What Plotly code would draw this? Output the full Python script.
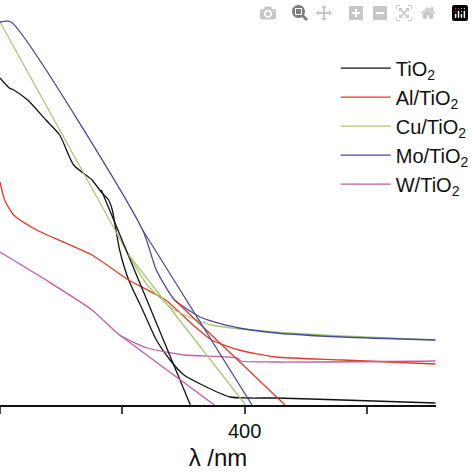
import plotly.graph_objects as go

names = ["TiO<sub>2</sub>", "Al/TiO<sub>2</sub>", "Cu/TiO<sub>2</sub>", "Mo/TiO<sub>2</sub>", "W/TiO<sub>2</sub>"]
colors = ["#111111", "#e03a2a", "#a8c870", "#4a4a9a", "#c05ca8"]

tio2_x = [300, 303.8, 305.6, 311.3, 318.8, 324.4, 330.1, 337.6, 341.4, 344.4, 345.9, 348.9, 352.6, 358.3, 363.9, 369.5, 375.2, 382.7, 394, 401.5, 412.8, 440, 478]
tio2_y = [3.27, 3.17, 3.15, 3.05, 2.85, 2.70, 2.40, 2.25, 2.13, 2.05, 1.95, 1.55, 1.25, 0.95, 0.65, 0.45, 0.30, 0.20, 0.08, 0.07, 0.07, 0.05, 0.02]
al_x = [300, 301.9, 305.6, 315, 337.6, 352.6, 367.7, 378.9, 386.5, 397.7, 412.8, 440, 478]
al_y = [2.23, 2.05, 1.90, 1.75, 1.50, 1.25, 1.05, 0.80, 0.65, 0.55, 0.48, 0.45, 0.41]
cu_x = [300, 347.7, 352.6, 360.2, 371.4, 386.5, 412.8, 440, 478]
cu_y = [3.83, 1.72, 1.50, 1.20, 0.95, 0.80, 0.73, 0.69, 0.65]
mo_x = [300, 304.5, 358.3, 363.9, 371.4, 382.7, 397.7, 412.8, 440, 478]
mo_y = [3.83, 3.83, 1.75, 1.35, 1.05, 0.87, 0.77, 0.72, 0.68, 0.65]
w_x = [300, 318.8, 337.6, 348.9, 360.2, 375.2, 397, 398.5, 412.8, 478]
w_y = [1.53, 1.25, 0.95, 0.70, 0.57, 0.50, 0.47, 0.44, 0.43, 0.44]

tan_x = [[341.4, 377.8], [371.4, 416.5], [352.6, 400.4], [358.3, 403], [348.9, 387.6]]
tan_y = [[2.15, 0], [1.05, 0], [1.50, 0], [1.75, 0], [0.70, 0]]

series = [(tio2_x, tio2_y), (al_x, al_y), (cu_x, cu_y), (mo_x, mo_y), (w_x, w_y)]

fig = go.Figure()
for i, (xs, ys) in enumerate(series):
    fig.add_trace(go.Scatter(x=xs, y=ys, mode="lines", name=names[i],
                             line=dict(color=colors[i], width=1.3, shape="spline", smoothing=0.6)))
for i in range(5):
    fig.add_trace(go.Scatter(x=tan_x[i], y=tan_y[i], mode="lines", showlegend=False,
                             line=dict(color=colors[i], width=1.3)))

fig.update_layout(
    width=474, height=474, margin=dict(l=0, r=0, t=0, b=69),
    paper_bgcolor="white", plot_bgcolor="white",
    font=dict(family="Liberation Sans, Arial", size=20, color="#111"),
    legend=dict(x=0.77, y=0.88, xanchor="left", yanchor="top",
                bgcolor="rgba(0,0,0,0)", font=dict(size=20), tracegroupgap=0,
                itemwidth=50),
    xaxis=dict(range=[300, 478.2], tickvals=[300, 400], ticks="outside", ticklen=7,
               tickwidth=1.5, showline=True, linewidth=2, linecolor="#111",
               showgrid=False, zeroline=False,
               minor=dict(tickvals=[350, 450], ticks="outside", ticklen=7, tickwidth=1.5),
               title=dict(text="λ /nm", standoff=8)),
    yaxis=dict(range=[0, 4.05], visible=False),
)
fig.write_html("out.html", post_script="document.body.style.margin='0';document.body.style.overflow='hidden';")
